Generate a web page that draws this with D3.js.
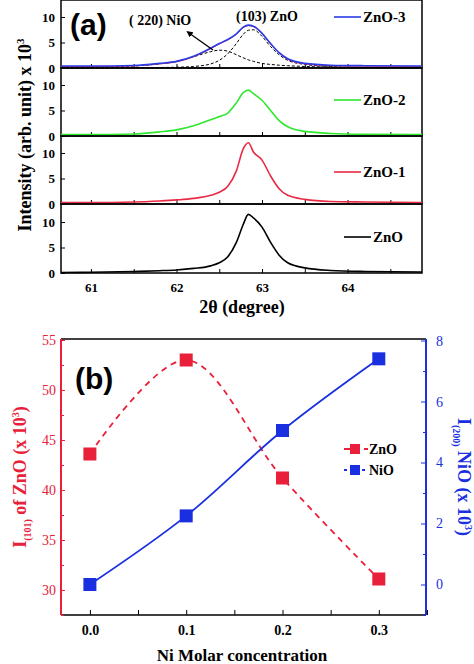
<!DOCTYPE html>
<html><head><meta charset="utf-8">
<script src="https://cdn.jsdelivr.net/npm/d3@7"></script>
<style>body{margin:0;background:#fff} text{font-family:'Liberation Serif','DejaVu Serif',serif !important;font-weight:bold}</style>
</head><body><svg id="c" width="474" height="664"></svg>
<script>
// Panel (a) XRD data: [2theta, intensity x10^3]
const theta = [60.65,61.0,61.5,61.8,62.0,62.2,62.4,62.5,62.6,62.7,62.78,62.84,62.9,63.0,63.1,63.2,63.3,63.5,63.8,64.2,64.87];
const znoI  = [0.1,0.15,0.3,0.45,0.6,0.9,1.4,2.0,3.2,6.0,9.5,11.5,10.8,9.0,6.0,3.5,2.0,1.0,0.5,0.3,0.2];
const zno1I = [0.3,0.3,0.4,0.6,0.8,1.1,1.7,2.3,3.5,6.5,10.8,12.0,10.2,8.6,5.5,3.0,1.7,0.9,0.5,0.4,0.3];
const zno2I = [0.3,0.3,0.4,0.8,1.2,2.0,3.2,3.8,4.5,6.5,8.5,9.0,8.3,7.0,5.0,3.0,1.8,0.9,0.5,0.35,0.3];
const zno3I = [0.4,0.4,0.5,0.9,1.3,2.3,3.9,4.8,5.6,6.7,8.0,8.4,8.2,6.8,4.8,3.0,1.8,0.9,0.55,0.45,0.4];
const fitNiO= [0.1,0.15,0.4,0.8,1.3,2.2,3.2,3.5,3.3,2.6,2.0,1.6,1.3,0.9,0.7,0.55,0.45,0.3,0.2,0.1,0.1];
const fitZnO= [0.0,0.0,0.05,0.1,0.15,0.3,0.8,1.5,2.8,4.8,6.6,7.4,7.5,6.2,4.2,2.6,1.5,0.7,0.3,0.1,0.05];
const seriesNames = ["ZnO-3","ZnO-2","ZnO-1","ZnO"];
const seriesColors = ["#2a3be8","#2ee82e","#e82a45","#000"];
const xTicksA = [61,62,63,64];
const yTicksA = [0,5,10];
// Panel (b)
const conc = [0.0,0.1,0.2,0.3];
const znoInt = [43.6,53.0,41.2,31.1];
const nioInt = [0.0,2.25,5.05,7.4];
const xTicksB = [0.0,0.1,0.2,0.3];
const yTicksL = [30,35,40,45,50,55];
const yTicksR = [0,2,4,6,8];

const svg = d3.select("#c");
const L=61,R=422;
const xA = d3.scaleLinear().domain([60.65,64.87]).range([L,R]);
const panelBottoms=[68,136,204,273];
const data=[zno3I,zno2I,zno1I,znoI];
panelBottoms.forEach((b,i)=>{
  const top = i==0?0:panelBottoms[i-1];
  const y = d3.scaleLinear().domain([0,10]).range([b,b-51]);
  const g=svg.append("g");
  g.append("rect").attr("x",L).attr("y",top).attr("width",R-L).attr("height",b-top).attr("fill","none").attr("stroke","#000").attr("stroke-width",1.5);
  const ay=g.append("g").attr("transform",`translate(${L},0)`).call(d3.axisLeft(y).tickValues(yTicksA).tickSize(-4).tickPadding(6));
  ay.select(".domain").remove();
  ay.selectAll("text").attr("font-size",13);
  const ax=g.append("g").attr("transform",`translate(0,${b})`).call(d3.axisTop(xA).tickValues(d3.range(61,65,0.5)).tickSize(4).tickFormat(""));
  ax.select(".domain").remove();
  const line=d3.line().x((d,k)=>xA(theta[k])).y(d=>y(d)).curve(d3.curveMonotoneX);
  if(i==0){
    g.append("path").attr("d",line(fitNiO)).attr("fill","none").attr("stroke","#000").attr("stroke-dasharray","3,2").attr("stroke-width",1);
    g.append("path").attr("d",line(fitZnO)).attr("fill","none").attr("stroke","#000").attr("stroke-dasharray","3,2").attr("stroke-width",1);
    g.append("path").attr("d",line(zno3I.map((v,k)=>v-0.1))).attr("fill","none").attr("stroke","#e82a45").attr("stroke-width",1);
  }
  g.append("path").attr("d",line(data[i])).attr("fill","none").attr("stroke",seriesColors[i]).attr("stroke-width",1.6);
  const ly = i==0?17:i==1?100:i==2?172:237;
  const lx = i==3?344:334;
  g.append("line").attr("x1",lx).attr("x2",lx+27).attr("y1",ly).attr("y2",ly).attr("stroke",seriesColors[i]).attr("stroke-width",1.6);
  g.append("text").attr("x",lx+29).attr("y",ly+5).attr("font-size",15).text(seriesNames[i]);
});
const axB=svg.append("g").attr("transform",`translate(0,273)`).call(d3.axisBottom(xA).tickValues(xTicksA).tickSize(0).tickPadding(10).tickFormat(d3.format("d")));
axB.select(".domain").remove();
axB.selectAll("text").attr("font-size",13);
svg.append("text").attr("x",242).attr("y",313).attr("text-anchor","middle").attr("font-size",18).text("2θ (degree)");
svg.append("text").attr("transform","translate(31,135) rotate(-90)").attr("text-anchor","middle").attr("font-size",18).html('Intensity (arb. unit) x 10<tspan dy="-7" font-size="11">3</tspan>');
svg.append("text").attr("x",70).attr("y",35).attr("font-size",30).attr("style","font-family:'Liberation Sans',sans-serif !important").text("(a)");
svg.append("text").attr("x",129).attr("y",25).attr("font-size",14).text("( 220) NiO");
svg.append("text").attr("x",236).attr("y",21).attr("font-size",14).text("(103) ZnO");
svg.append("defs").append("marker").attr("id","ar").attr("viewBox","0 0 10 10").attr("refX",5).attr("refY",5).attr("markerWidth",5).attr("markerHeight",5).attr("orient","auto").append("path").attr("d","M0,0L10,5L0,10z");
svg.append("line").attr("x1",213).attr("y1",50).attr("x2",189).attr("y2",33).attr("stroke","#000").attr("stroke-width",1.3).attr("marker-end","url(#ar)");

// Panel (b)
const bT=339,bB=615,bL=61,bR=426;
const xB=d3.scaleLinear().domain([-0.03,0.349]).range([bL,bR]);
const yL=d3.scaleLinear().domain([27.5,55.1]).range([bB,bT]);
const yR=d3.scaleLinear().domain([-1,8.05]).range([bB,bT]);
const red="#e8203a", blue="#1a2fe0";
svg.append("line").attr("x1",bL).attr("x2",bR).attr("y1",bT).attr("y2",bT).attr("stroke","#000").attr("stroke-width",1.5);
svg.append("line").attr("x1",bL).attr("x2",bR).attr("y1",bB).attr("y2",bB).attr("stroke","#000").attr("stroke-width",1.5);
const gl=svg.append("g").attr("transform",`translate(${bL},0)`).call(d3.axisLeft(yL).tickValues(yTicksL).tickSize(5).tickPadding(4));
gl.select(".domain").attr("d",`M0,${bT}V${bB}`).attr("stroke",red).attr("stroke-width",2);
gl.selectAll("line").attr("stroke",red).attr("x2",4);
gl.selectAll("text").attr("fill",red).attr("font-size",14).attr("style","font-weight:normal").attr("x",-5);
const glm=svg.append("g").attr("transform",`translate(${bL},0)`).call(d3.axisRight(yL).tickValues(d3.range(27.5,55,2.5).filter(v=>v%5!=0)).tickSize(3).tickFormat(""));
glm.select(".domain").remove(); glm.selectAll("line").attr("stroke",red);
const gr=svg.append("g").attr("transform",`translate(${bR},0)`).call(d3.axisRight(yR).tickValues(yTicksR).tickSize(-5).tickPadding(10));
gr.select(".domain").attr("d",`M0,${bT}V${bB}`).attr("stroke",blue).attr("stroke-width",2);
gr.selectAll("line").attr("stroke",blue);
gr.selectAll("text").attr("fill",blue).attr("font-size",14).attr("style","font-weight:normal");
const grm=svg.append("g").attr("transform",`translate(${bR},0)`).call(d3.axisLeft(yR).tickValues([-1,1,3,5,7]).tickSize(3).tickFormat(""));
grm.select(".domain").remove(); grm.selectAll("line").attr("stroke",blue);
const gx=svg.append("g").attr("transform",`translate(0,${bB})`).call(d3.axisTop(xB).tickValues(d3.range(0,0.36,0.05)).tickSize(5).tickFormat(""));
gx.select(".domain").remove();
const gxl=svg.append("g").attr("transform",`translate(0,${bB})`).call(d3.axisBottom(xB).tickValues(xTicksB).tickSize(0).tickPadding(10).tickFormat(d3.format(".1f")));
gxl.select(".domain").remove();
gxl.selectAll("text").attr("font-size",14);
svg.append("text").attr("x",242).attr("y",661).attr("text-anchor","middle").attr("font-size",17).text("Ni Molar concentration");
svg.append("path").attr("d",d3.line().x((d,k)=>xB(conc[k])).y(d=>yL(d)).curve(d3.curveCatmullRom.alpha(0.5))(znoInt)).attr("fill","none").attr("stroke",red).attr("stroke-width",1.8).attr("stroke-dasharray","6,5");
svg.append("path").attr("d",d3.line().x((d,k)=>xB(conc[k])).y(d=>yR(d)).curve(d3.curveCatmullRom.alpha(0.5))(nioInt)).attr("fill","none").attr("stroke",blue).attr("stroke-width",1.8);
const s=13;
svg.selectAll(".rz").data(znoInt).join("rect").attr("x",(d,k)=>xB(conc[k])-s/2).attr("y",d=>yL(d)-s/2).attr("width",s).attr("height",s).attr("fill",red);
svg.selectAll(".bn").data(nioInt).join("rect").attr("x",(d,k)=>xB(conc[k])-s/2).attr("y",d=>yR(d)-s/2).attr("width",s).attr("height",s).attr("fill",blue);
svg.append("text").attr("x",75).attr("y",389).attr("font-size",30).attr("style","font-family:'Liberation Sans',sans-serif !important").text("(b)");
[["ZnO",red,"6,4",449],["NiO",blue,"3,3",470]].forEach(([t,c,da,yy])=>{
  svg.append("line").attr("x1",344).attr("x2",368).attr("y1",yy).attr("y2",yy).attr("stroke",c).attr("stroke-width",1.8).attr("stroke-dasharray",da);
  svg.append("rect").attr("x",350).attr("y",yy-5).attr("width",10).attr("height",10).attr("fill",c);
  svg.append("text").attr("x",369).attr("y",yy+5).attr("font-size",14).attr("fill","#000").text(t);
});
svg.append("text").attr("transform","translate(26,477) rotate(-90)").attr("text-anchor","middle").attr("font-size",18).attr("fill",red).html('I<tspan dy="5" font-size="10">(101)</tspan><tspan dy="-5"> of ZnO (x 10</tspan><tspan dy="-7" font-size="10">3</tspan><tspan dy="7">)</tspan>');
svg.append("text").attr("transform","translate(458,477) rotate(90)").attr("text-anchor","middle").attr("font-size",18).attr("fill",blue).html('I<tspan dy="5" font-size="10">(200)</tspan><tspan dy="-5"> NiO (x 10</tspan><tspan dy="-7" font-size="10">3</tspan><tspan dy="7">)</tspan>');
</script></body></html>
